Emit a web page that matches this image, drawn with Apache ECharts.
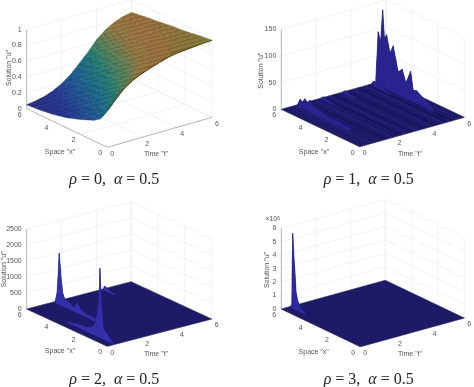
<!DOCTYPE html>
<html>
<head>
<meta charset="utf-8">
<style>html,body{margin:0;padding:0;background:#fff}#chart{width:474px;height:387px}</style>
<script src="https://cdn.jsdelivr.net/npm/echarts@6/dist/echarts.min.js"></script>
</head>
<body>
<div id="chart"></div>
<script>
// axis ticks, shared by the four panels
const tTicks = [0, 2, 4, 6];
const xTicks = [0, 2, 4, 6];
const rhoValues = [0, 1, 2, 3];
const alphaValue = 0.5;

// rho = 0: smooth surface, rows are x, columns are t
const surfaceT = [0, 0.5, 1, 1.5, 2, 2.5, 3, 3.5, 4, 4.5, 5, 5.5, 6];
const surfaceX = [0, 0.5, 1, 2, 3, 4, 5, 6];
const surfaceU = [
    [.46, .58, .69, .76, .81, .85, .885, .92, .94, .95, .96, .97, .975],
    [.32, .44, .57, .67, .74, .79, .83, .87, .90, .92, .94, .955, .965],
    [.26, .36, .48, .58, .66, .73, .78, .83, .87, .895, .92, .94, .955],
    [.19, .26, .35, .45, .55, .63, .70, .76, .81, .85, .88, .905, .925],
    [.13, .18, .26, .36, .46, .55, .63, .71, .77, .82, .86, .89, .91],
    [.09, .13, .19, .28, .37, .47, .56, .65, .72, .78, .83, .86, .885],
    [.065, .09, .13, .19, .27, .37, .47, .57, .67, .745, .80, .84, .865],
    [.05, .065, .09, .13, .19, .27, .38, .49, .62, .71, .775, .815, .84]
];

// rho = 1: ridges, each is t, half width and [x, u] points from back to front
const ridges1 = [
    {t: 5.41, w: 0.11, pts: [[6, 0], [5.8, 98], [5.62, 82], [5.46, 143], [5.32, 92], [5.16, 100], [4.9, 69], [4.65, 85], [4.45, 61], [4.27, 41], [3.96, 49], [3.68, 27], [3.32, 53], [3.12, 20], [2.86, 22], [2.23, 12], [1.5, 0]]},
    {t: 5.15, w: 0.1, pts: [[6, 0], [5.8, 8], [5.5, 6], [5.1, 3], [4.5, 0]]},
    {t: 3.55, w: 0.1, pts: [[6, 0], [5.85, 4], [5.4, 1], [5, 0]]},
    {t: 2.3, w: 0.1, pts: [[6, 0], [5.85, 4], [5.4, 1], [5, 0]]},
    {t: 1.0, w: 0.18, pts: [[6, 0], [5.9, 11], [5.72, 8], [5.52, 16], [5.35, 10], [5.14, 18], [4.8, 10], [4.5, 7], [3.6, 3], [2, 0]]}
];
const lightStreaks1 = [0.7, 1.9, 2.7, 3.3, 4.1, 4.8, 5.7];
const darkStreaks1 = [1.5, 2.4, 3.0, 3.7, 4.4, 5.0, 5.3];

// rho = 2
const ridges2 = [
    {t: 4.4, w: 0.08, pts: [[6, 0], [5.9, 110], [5.7, 70], [5.45, 30], [5.1, 0]]},
    {t: 1.63, w: 0.09, pts: [[6, 0], [5.85, 300], [5.69, 1570], [5.51, 665], [5.43, 370], [5.26, 215], [4.89, 170], [4.6, 70], [4.35, 265], [4.1, 150], [3.9, 80], [3.6, 50], [3.2, 60], [2.6, 0]]},
    {t: 0.5, w: 0.09, pts: [[3.6, 0], [3.2, 30], [2.8, 85], [2.2, 100], [1.8, 180], [1.56, 344], [1.39, 690], [1.24, 1134], [1.2, 2130], [1.12, 1470], [1.04, 756], [0.95, 300], [0.45, 100], [0.2, 0]]}
];
const lightStreaks2 = [];
const darkStreaks2 = [];

// rho = 3
const ridges3 = [
    {t: 0.52, w: 0.05, pts: [[6, 0], [5.88, 0.2], [5.82, 5.52], [5.68, 3.2], [5.55, 1.2], [5.4, 0.6], [5.2, 0.25], [4.8, 0]]}
];

const uTicks = [
    [0, 0.2, 0.4, 0.6, 0.8, 1],
    [0, 50, 100, 150],
    [0, 500, 1000, 1500, 2000, 2500],
    [0, 1, 2, 3, 4, 5, 6]
];

// where each panel sits on the page, in pixels
const views = [
    {fx: 107.3, fy: 147.3, tx: 104.7, ty: -30, xx: -80.6, xy: -38.6, h: 79, uMax: 1,
     space: [60, 152.3], time: [156, 154.3], sol: [9, 68], title: [114.3, 179.3], ridge: '#2f28a6'},
    {fx: 359.7, fy: 146.7, tx: 104.6, ty: -29.4, xx: -78.4, xy: -37.4, h: 80, uMax: 150,
     space: [314, 152.3], time: [410, 154.3], sol: [261, 70.7], title: [368.7, 179.3], ridge: '#2a2490'},
    {fx: 107.3, fy: 346.3, tx: 104.4, ty: -27.3, xx: -80.6, xy: -37.3, h: 80, uMax: 2500,
     space: [60, 351.3], time: [156, 354], sol: [4.3, 269.3], title: [114.3, 380], ridge: '#3531ad'},
    {fx: 360.3, fy: 346.7, tx: 104, ty: -28.7, xx: -79, xy: -37.7, h: 80.7, uMax: 6,
     space: [313.7, 351.7], time: [410, 354], sol: [267, 270], title: [368.7, 380], ridge: '#2d28a4'}
];

const FONT = '"Liberation Sans", Arial, sans-serif';
const GRID_COLOR = '#ededed';
const AXIS_COLOR = '#a8a8a8';
const TEXT_COLOR = '#555';

function project(v, t, x, u) {
    return [
        v.fx + v.tx * t / 6 + v.xx * x / 6,
        v.fy + v.ty * t / 6 + v.xy * x / 6 - v.h * u / v.uMax
    ];
}

// colours of the first surface as seen through its dark mesh
const colorLevels = [0, 0.14, 0.25, 0.375, 0.5, 0.625, 0.75, 0.85, 1];
const colorStops = [[40, 35, 120], [30, 50, 150], [25, 80, 150], [20, 105, 140], [30, 125, 115], [85, 130, 85], [150, 120, 60], [160, 112, 58], [125, 125, 48]];
function surfaceColor(u, k) {
    let i = 0;
    while (i < colorLevels.length - 2 && u > colorLevels[i + 1]) i++;
    const f = Math.min(Math.max((u - colorLevels[i]) / (colorLevels[i + 1] - colorLevels[i]), 0), 1);
    const c = colorStops[i].map((a, n) => Math.round((a + (colorStops[i + 1][n] - a) * f) * k));
    return 'rgb(' + c.join(',') + ')';
}

function frameSeries(v, ticks) {
    const lines = [];
    const top = ticks[ticks.length - 1];
    tTicks.forEach(t => {
        lines.push([[t, 0, 0], [t, 6, 0], GRID_COLOR]);
        lines.push([[t, 6, 0], [t, 6, top], GRID_COLOR]);
    });
    xTicks.forEach(x => {
        lines.push([[0, x, 0], [6, x, 0], GRID_COLOR]);
        lines.push([[6, x, 0], [6, x, top], GRID_COLOR]);
    });
    ticks.forEach(u => {
        lines.push([[0, 6, u], [6, 6, u], GRID_COLOR]);
        lines.push([[6, 6, u], [6, 0, u], GRID_COLOR]);
    });
    lines.push([[0, 0, 0], [6, 0, 0], AXIS_COLOR]);
    lines.push([[0, 0, 0], [0, 6, 0], AXIS_COLOR]);
    lines.push([[0, 6, 0], [0, 6, top], AXIS_COLOR]);
    return {
        type: 'custom', coordinateSystem: 'cartesian2d', silent: true, animation: false, clip: false,
        data: lines.map((l, i) => [i]),
        renderItem(params, api) {
            const l = lines[params.dataIndex];
            const a = api.coord(project(v, ...l[0]));
            const b = api.coord(project(v, ...l[1]));
            return {type: 'line', shape: {x1: a[0], y1: a[1], x2: b[0], y2: b[1]},
                style: {stroke: l[2], lineWidth: l[2] === AXIS_COLOR ? 0.8 : 0.7}};
        }
    };
}

// rho = 0 surface, painted from the back corner to the front one
function surfaceSeries(v) {
    const cells = [];
    for (let j = surfaceX.length - 2; j >= 0; j--) {
        for (let i = surfaceT.length - 2; i >= 0; i--) cells.push([i, j]);
    }
    return {
        type: 'custom', coordinateSystem: 'cartesian2d', silent: true, animation: false, clip: false,
        data: cells,
        renderItem(params, api) {
            const i = api.value(0), j = api.value(1);
            const t0 = surfaceT[i], t1 = surfaceT[i + 1], x0 = surfaceX[j], x1 = surfaceX[j + 1];
            const nt = 4, nx = Math.round((x1 - x0) * 8);
            const uAt = (a, b) => (surfaceU[j][i] * (1 - a) + surfaceU[j][i + 1] * a) * (1 - b) +
                (surfaceU[j + 1][i] * (1 - a) + surfaceU[j + 1][i + 1] * a) * b;
            const children = [];
            for (let b = nx - 1; b >= 0; b--) {
                for (let a = nt - 1; a >= 0; a--) {
                    const corner = (p, q) => {
                        const ca = p / nt, cb = q / nx;
                        return api.coord(project(v, t0 + (t1 - t0) * ca, x0 + (x1 - x0) * cb, uAt(ca, cb)));
                    };
                    const pts = [corner(a, b), corner(a + 1, b), corner(a + 1, b + 1), corner(a, b + 1)];
                    const cy = (pts[0][1] + pts[2][1]) / 2, cx = (pts[0][0] + pts[2][0]) / 2;
                    const stripe = Math.floor((cy + cx * 0.27) / 2) % 2 === 0 ? 0.98 : 0.84;
                    const col = surfaceColor(uAt((a + 0.5) / nt, (b + 0.5) / nx), stripe);
                    children.push({type: 'polygon', shape: {points: pts}, style: {fill: col, stroke: col, lineWidth: 0.4}});
                }
            }
            return {type: 'group', children};
        }
    };
}

// lit and dark rims along the x = 0 edge of the first surface
function edgeSeries(v) {
    const rims = [{dy: 1, color: 'rgba(225,220,150,0.7)', w: 0.7}, {dy: 0, color: '#3f3c24', w: 0.9}];
    return {
        type: 'custom', coordinateSystem: 'cartesian2d', silent: true, animation: false, clip: false,
        data: rims.map((r, i) => [i]),
        renderItem(params, api) {
            const r = rims[params.dataIndex];
            const pts = surfaceT.map((t, i) => {
                const p = project(v, t, 0, surfaceU[0][i]);
                return api.coord([p[0], p[1] + r.dy]);
            });
            return {type: 'polyline', shape: {points: pts}, style: {stroke: r.color, lineWidth: r.w, fill: null}};
        }
    };
}

// flat part of rho = 1,2,3 with the streak lines on it
function floorSeries(v, light, dark) {
    const items = [{kind: 'floor'}];
    light.forEach(t => items.push({kind: 'line', t, color: '#2d2a8c'}));
    dark.forEach(t => items.push({kind: 'line', t, color: '#0e0c44'}));
    return {
        type: 'custom', coordinateSystem: 'cartesian2d', silent: true, animation: false, clip: false,
        data: items.map((d, i) => [i]),
        renderItem(params, api) {
            const d = items[params.dataIndex];
            if (d.kind === 'floor') {
                const pts = [[0, 0], [6, 0], [6, 6], [0, 6]].map(p => api.coord(project(v, p[0], p[1], 0)));
                return {type: 'polygon', shape: {points: pts}, style: {fill: '#1d1a68', stroke: '#1d1a68', lineWidth: 0.5}};
            }
            const a = api.coord(project(v, d.t, 6, 0)), b = api.coord(project(v, d.t, 0, 0));
            return {type: 'line', shape: {x1: a[0], y1: a[1], x2: b[0], y2: b[1]}, style: {stroke: d.color, lineWidth: 0.7}};
        }
    };
}

function ridgeSeries(v, ridges) {
    const segs = [];
    ridges.forEach(r => {
        for (let k = 0; k < r.pts.length - 1; k++) {
            segs.push([r.t, r.w, r.pts[k][0], r.pts[k][1], r.pts[k + 1][0], r.pts[k + 1][1]]);
        }
    });
    return {
        type: 'custom', coordinateSystem: 'cartesian2d', silent: true, animation: false, clip: false,
        data: segs,
        renderItem(params, api) {
            const t = api.value(0), w = api.value(1);
            const x0 = api.value(2), u0 = api.value(3), x1 = api.value(4), u1 = api.value(5);
            const c = (a, b, h) => api.coord(project(v, a, b, h));
            const face = (side, fill) => ({
                type: 'polygon',
                shape: {points: [c(side, x0, 0), c(t, x0, u0), c(t, x1, u1), c(side, x1, 0)]},
                style: {fill, stroke: fill, lineWidth: 0.3}
            });
            return {type: 'group', children: [face(t + w, '#1f1b78'), face(t - w, v.ridge)]};
        }
    };
}

function labelSeries(v, ticks, rho, sci) {
    const texts = [];
    const small = {fontSize: 7, fontFamily: FONT, fill: TEXT_COLOR};
    tTicks.forEach(t => {
        const p = project(v, t, 0, 0);
        texts.push({xy: [p[0] + 5, p[1] + 6.5], text: String(t), style: {...small, textAlign: 'center'}});
    });
    xTicks.forEach(x => {
        const p = project(v, 0, x, 0);
        texts.push({xy: [p[0] - 7, p[1] + 6], text: String(x), style: {...small, textAlign: 'center'}});
    });
    ticks.forEach(u => {
        const p = project(v, 0, 6, u);
        texts.push({xy: [p[0] - 5, p[1]], text: String(u), style: {...small, textAlign: 'right'}});
    });
    texts.push({xy: v.space, text: 'Space "x"', style: {...small, textAlign: 'center'}});
    texts.push({xy: v.time, text: 'Time "t"', style: {...small, textAlign: 'center'}});
    texts.push({xy: v.sol, text: 'Solution "u"', rotation: Math.PI / 2, style: {...small, textAlign: 'center'}});
    if (sci) {
        texts.push({xy: [v.fx + v.xx - 16, v.fy + v.xy - v.h - 9], text: '×10{s|6}',
            style: {...small, textAlign: 'left', rich: {s: {fontSize: 5, verticalAlign: 'top', fill: TEXT_COLOR}}}});
    }
    texts.push({xy: v.title, text: '{i|ρ} = ' + rho + ',  {i|α} = ' + alphaValue, style: {
        fontSize: 16, fontFamily: '"Liberation Serif", serif', fill: '#222', textAlign: 'center',
        rich: {i: {fontStyle: 'italic', fontSize: 16, fontFamily: '"Liberation Serif", serif', fill: '#222'}}
    }});
    return {
        type: 'custom', coordinateSystem: 'cartesian2d', silent: true, animation: false, clip: false,
        data: texts.map((d, i) => [i]),
        renderItem(params, api) {
            const d = texts[params.dataIndex];
            const p = api.coord(d.xy);
            return {type: 'text', x: p[0], y: p[1], rotation: d.rotation || 0,
                style: {...d.style, text: d.text, textVerticalAlign: 'middle'}};
        }
    };
}

const series = [];
views.forEach((v, i) => series.push(frameSeries(v, uTicks[i])));
series.push(surfaceSeries(views[0]));
series.push(edgeSeries(views[0]));
series.push(floorSeries(views[1], lightStreaks1, darkStreaks1));
series.push(ridgeSeries(views[1], ridges1));
series.push(floorSeries(views[2], lightStreaks2, darkStreaks2));
series.push(ridgeSeries(views[2], ridges2));
series.push(floorSeries(views[3], [], []));
series.push(ridgeSeries(views[3], ridges3));
views.forEach((v, i) => series.push(labelSeries(v, uTicks[i], rhoValues[i], i === 3)));

const chart = echarts.init(document.getElementById('chart'), null, {renderer: 'canvas'});
chart.setOption({
    animation: false,
    backgroundColor: '#fff',
    grid: {left: 0, right: 0, top: 0, bottom: 0},
    xAxis: {type: 'value', min: 0, max: 474, show: false},
    yAxis: {type: 'value', min: 0, max: 387, inverse: true, show: false},
    series
});
</script>
</body>
</html>
